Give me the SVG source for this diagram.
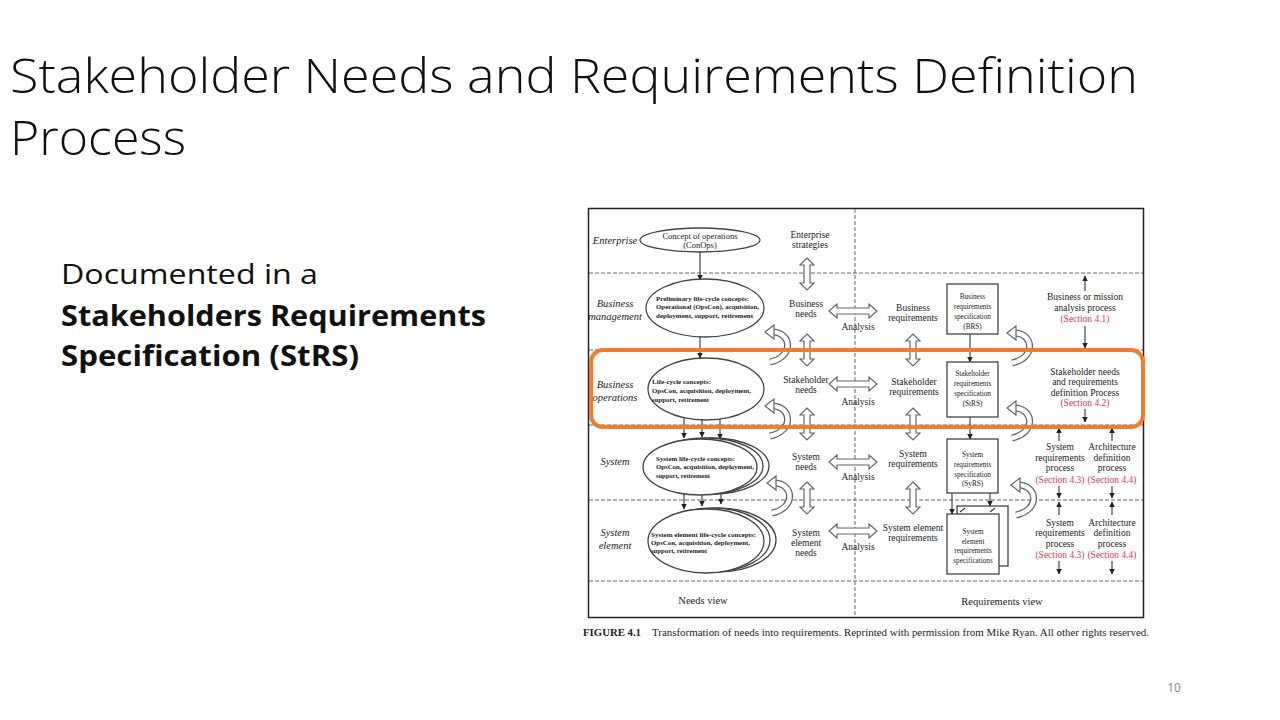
<svg xmlns="http://www.w3.org/2000/svg" width="1280" height="720" viewBox="0 0 1280 720">
<style>
.ttl{font-family:"Open Sans","Liberation Sans",sans-serif;font-weight:300;font-size:47px;fill:#111}
.body{font-family:"Open Sans","Liberation Sans",sans-serif;font-size:28px;fill:#111}
.fig{font-family:"Liberation Serif","Times New Roman",serif;fill:#222}
.t9{font-size:9.5px;text-anchor:middle}
.lab{font-size:10.5px;font-style:italic;text-anchor:middle}
.el{font-size:6.8px;font-weight:bold}
.bx{font-size:7.2px;text-anchor:middle}
.red{fill:#e0384f}
.dash{stroke:#666;stroke-width:1;stroke-dasharray:4 2;fill:none}
.ell{fill:#fff;stroke:#444;stroke-width:1.3}
.box{fill:#fff;stroke:#444;stroke-width:1.3}
.ln{stroke:#333;stroke-width:1.1;fill:none}
</style>
<defs>
<marker id="ah" viewBox="0 0 10 10" refX="9" refY="5" markerWidth="5" markerHeight="5" orient="auto-start-reverse"><path d="M0,0 L10,5 L0,10 z" fill="#222"/></marker>
<polygon id="va" points="0,-16 7,-9 3,-9 3,9 7,9 0,16 -7,9 -3,9 -3,-9 -7,-9" fill="#fff" stroke="#666" stroke-width="1.2"/>
<polygon id="hz" points="-24,0 -16,-7 -16,-3 16,-3 16,-7 24,0 16,7 16,3 -16,3 -16,7" fill="#fff" stroke="#666" stroke-width="1.2"/>
<g id="ca">
<path d="M5,1 C24,2 26,26 2,31" fill="none" stroke="#666" stroke-width="7"/>
<path d="M5,1 C24,2 26,26 2,31" fill="none" stroke="#fff" stroke-width="4.4"/>
<polygon points="-3,1 6,-6 6,8" fill="#fff" stroke="#666" stroke-width="1.2"/>
</g>
</defs>
<rect width="1280" height="720" fill="#fff"/>

<g id="title">
<text class="ttl" x="10" y="93" textLength="1128" lengthAdjust="spacingAndGlyphs">Stakeholder Needs and Requirements Definition</text>
<text class="ttl" x="10" y="155" textLength="176" lengthAdjust="spacingAndGlyphs">Process</text>
</g>
<g id="bodytext">
<text class="body" x="61" y="284" textLength="257" lengthAdjust="spacingAndGlyphs">Documented in a</text>
<text class="body" x="61" y="326" font-weight="bold" textLength="425" lengthAdjust="spacingAndGlyphs">Stakeholders Requirements</text>
<text class="body" x="61" y="366" font-weight="bold" textLength="298" lengthAdjust="spacingAndGlyphs">Specification (StRS)</text>
</g>
<text id="pagenum" x="1174" y="692" font-family="Open Sans, Liberation Sans, sans-serif" font-size="12" fill="#888" text-anchor="middle">10</text>

<g id="figure-frame">
<rect x="588.5" y="208.5" width="555" height="409" fill="#fff" stroke="#222" stroke-width="1.5"/>
<line class="dash" x1="589" y1="273" x2="1143" y2="273"/>
<line class="dash" x1="589" y1="350" x2="1143" y2="350"/>
<line class="dash" x1="589" y1="425" x2="1143" y2="425"/>
<line class="dash" x1="589" y1="500" x2="1143" y2="500"/>
<line class="dash" x1="589" y1="581" x2="1143" y2="581"/>
<line class="dash" x1="855" y1="209" x2="855" y2="617"/>
</g>

<g id="row-labels" class="fig lab">
<text x="615" y="244">Enterprise</text>
<text x="615" y="307">Business</text>
<text x="615" y="320">management</text>
<text x="615" y="388">Business</text>
<text x="615" y="401">operations</text>
<text x="615" y="465">System</text>
<text x="615" y="536">System</text>
<text x="615" y="549">element</text>
</g>

<g id="connectors">
<line class="ln" x1="700" y1="252" x2="700" y2="280" marker-end="url(#ah)"/>
<line class="ln" x1="700" y1="337" x2="700" y2="358" marker-end="url(#ah)"/>
<line class="ln" x1="684" y1="418" x2="684" y2="438" marker-end="url(#ah)"/>
<line class="ln" x1="702" y1="420" x2="702" y2="437" marker-end="url(#ah)"/>
<line class="ln" x1="720" y1="418" x2="720" y2="439" marker-end="url(#ah)"/>
<line class="ln" x1="684" y1="492" x2="684" y2="509" marker-end="url(#ah)"/>
<line class="ln" x1="702" y1="494" x2="702" y2="506" marker-end="url(#ah)"/>
<line class="ln" x1="721" y1="492" x2="721" y2="504" marker-end="url(#ah)"/>
<line class="ln" x1="970" y1="334" x2="970" y2="362" marker-end="url(#ah)"/>
<line class="ln" x1="970" y1="417" x2="970" y2="439" marker-end="url(#ah)"/>
<line class="ln" x1="952" y1="493" x2="952" y2="514" marker-end="url(#ah)"/>
<line class="ln" x1="990" y1="493" x2="990" y2="506" marker-end="url(#ah)"/>
<line class="ln" x1="1085" y1="291" x2="1085" y2="276" marker-end="url(#ah)"/>
<line class="ln" x1="1085" y1="326" x2="1085" y2="348" marker-end="url(#ah)"/>
<line class="ln" x1="1085" y1="409" x2="1085" y2="422" marker-end="url(#ah)"/>
<line class="ln" x1="1059" y1="441" x2="1059" y2="428" marker-end="url(#ah)"/>
<line class="ln" x1="1112" y1="441" x2="1112" y2="428" marker-end="url(#ah)"/>
<line class="ln" x1="1059" y1="486" x2="1059" y2="498" marker-end="url(#ah)"/>
<line class="ln" x1="1112" y1="486" x2="1112" y2="498" marker-end="url(#ah)"/>
<line class="ln" x1="1059" y1="515" x2="1059" y2="502" marker-end="url(#ah)"/>
<line class="ln" x1="1112" y1="515" x2="1112" y2="502" marker-end="url(#ah)"/>
<line class="ln" x1="1059" y1="561" x2="1059" y2="574" marker-end="url(#ah)"/>
<line class="ln" x1="1112" y1="561" x2="1112" y2="574" marker-end="url(#ah)"/>
<use href="#va" x="807" y="274"/>
<use href="#va" x="807" y="350"/>
<use href="#va" x="807" y="424"/>
<use href="#va" x="807" y="498"/>
<use href="#va" x="913" y="350"/>
<use href="#va" x="913" y="424"/>
<use href="#va" x="913" y="498"/>
<use href="#hz" x="853" y="311"/>
<use href="#hz" x="853" y="384"/>
<use href="#hz" x="853" y="462"/>
<use href="#hz" x="853" y="531"/>
<use href="#ca" x="768" y="331"/>
<use href="#ca" x="768" y="405"/>
<use href="#ca" x="770" y="482"/>
<use href="#ca" x="1010" y="332"/>
<use href="#ca" x="1010" y="407"/>
<use href="#ca" x="1014" y="484"/>
</g>

<g id="node-conops">
<ellipse class="ell" cx="700" cy="240" rx="60" ry="12"/>
<text class="fig" font-size="8.5" text-anchor="middle" x="700" y="238.5">Concept of operations</text>
<text class="fig" font-size="8.5" text-anchor="middle" x="700" y="247.5">(ConOps)</text>
</g>
<g id="node-prelim">
<ellipse class="ell" cx="705" cy="308" rx="59" ry="29"/>
<text class="fig el" x="656" y="300.5" textLength="93" lengthAdjust="spacingAndGlyphs">Preliminary life-cycle concepts:</text>
<text class="fig el" x="656" y="309" textLength="103" lengthAdjust="spacingAndGlyphs">Operational (OpsCon), acquisition,</text>
<text class="fig el" x="656" y="317.5" textLength="97" lengthAdjust="spacingAndGlyphs">deployment, support, retirement</text>
</g>
<g id="node-lifecycle">
<ellipse class="ell" cx="706" cy="389" rx="58" ry="31"/>
<text class="fig el" x="652" y="383.5" textLength="59" lengthAdjust="spacingAndGlyphs">Life-cycle concepts:</text>
<text class="fig el" x="652" y="392.5" textLength="99" lengthAdjust="spacingAndGlyphs">OpsCon, acquisition, deployment,</text>
<text class="fig el" x="652" y="401.5" textLength="57" lengthAdjust="spacingAndGlyphs">support, retirement</text>
</g>
<g id="node-system-concepts">
<ellipse class="ell" cx="712" cy="466" rx="57" ry="28"/>
<ellipse class="ell" cx="706" cy="466" rx="57" ry="28"/>
<ellipse class="ell" cx="700" cy="467" rx="57" ry="28"/>
<text class="fig el" x="656" y="460.5" textLength="79" lengthAdjust="spacingAndGlyphs">System life-cycle concepts:</text>
<text class="fig el" x="656" y="468.5" textLength="98" lengthAdjust="spacingAndGlyphs">OpsCon, acquisition, deployment,</text>
<text class="fig el" x="656" y="477.5" textLength="54" lengthAdjust="spacingAndGlyphs">support, retirement</text>
</g>
<g id="node-element-concepts">
<ellipse class="ell" cx="718" cy="540" rx="58" ry="32"/>
<ellipse class="ell" cx="712" cy="540" rx="58" ry="32"/>
<ellipse class="ell" cx="706" cy="541" rx="58" ry="32"/>
<text class="fig el" x="651" y="536.5" textLength="105" lengthAdjust="spacingAndGlyphs">System element life-cycle concepts:</text>
<text class="fig el" x="651" y="544.5" textLength="99" lengthAdjust="spacingAndGlyphs">OpsCon, acquisition, deployment,</text>
<text class="fig el" x="651" y="552.5" textLength="56" lengthAdjust="spacingAndGlyphs">support, retirement</text>
</g>

<g id="needs-labels" class="fig t9">
<text x="810" y="238">Enterprise</text>
<text x="810" y="248">strategies</text>
<text x="806" y="307">Business</text>
<text x="806" y="317">needs</text>
<text x="806" y="383">Stakeholder</text>
<text x="806" y="393">needs</text>
<text x="806" y="460">System</text>
<text x="806" y="470">needs</text>
<text x="806" y="536">System</text>
<text x="806" y="546">element</text>
<text x="806" y="556">needs</text>
</g>
<g id="analysis-labels" class="fig t9">
<text x="858" y="330">Analysis</text>
<text x="858" y="405">Analysis</text>
<text x="858" y="480">Analysis</text>
<text x="858" y="550">Analysis</text>
</g>
<g id="req-labels" class="fig t9">
<text x="913" y="311">Business</text>
<text x="913" y="321">requirements</text>
<text x="914" y="385">Stakeholder</text>
<text x="914" y="395">requirements</text>
<text x="913" y="457">System</text>
<text x="913" y="467">requirements</text>
<text x="913" y="531">System element</text>
<text x="913" y="541">requirements</text>
</g>

<g id="node-brs">
<rect class="box" x="947" y="284" width="51" height="50"/>
<g class="fig bx"><text x="972.5" y="299">Business</text><text x="972.5" y="308.5">requirements</text><text x="972.5" y="318.5">specification</text><text x="972.5" y="329">(BRS)</text></g>
</g>
<g id="node-strs">
<rect class="box" x="947" y="362" width="51" height="55"/>
<g class="fig bx"><text x="972.5" y="376">Stakeholder</text><text x="972.5" y="386">requirements</text><text x="972.5" y="396">specification</text><text x="972.5" y="406">(StRS)</text></g>
</g>
<g id="node-syrs">
<rect class="box" x="947" y="439" width="51" height="54"/>
<g class="fig bx"><text x="972.5" y="457">System</text><text x="972.5" y="467">requirements</text><text x="972.5" y="476.5">specification</text><text x="972.5" y="486">(SyRS)</text></g>
</g>
<g id="node-element-specs">
<rect class="box" x="957" y="506" width="51" height="60"/>
<rect class="box" x="947" y="514" width="52" height="60"/>
<line class="ln" x1="960" y1="512" x2="965" y2="508" stroke="#666"/>
<line class="ln" x1="990" y1="512" x2="995" y2="508" stroke="#666"/>
<g class="fig bx"><text x="973" y="534">System</text><text x="973" y="543.5">element</text><text x="973" y="553">requirements</text><text x="973" y="562.5">specifications</text></g>
</g>

<g id="process-41" class="fig t9">
<text x="1085" y="300">Business or mission</text>
<text x="1085" y="311">analysis process</text>
<text x="1085" y="322" class="red">(Section 4.1)</text>
</g>
<g id="process-42" class="fig t9">
<text x="1085" y="375">Stakeholder needs</text>
<text x="1085" y="385">and requirements</text>
<text x="1085" y="396">definition Process</text>
<text x="1085" y="406" class="red">(Section 4.2)</text>
</g>
<g id="process-43a" class="fig t9">
<text x="1060" y="450">System</text>
<text x="1060" y="461">requirements</text>
<text x="1060" y="471">process</text>
<text x="1060" y="483" class="red">(Section 4.3)</text>
</g>
<g id="process-44a" class="fig t9">
<text x="1112" y="450">Architecture</text>
<text x="1112" y="461">definition</text>
<text x="1112" y="471">process</text>
<text x="1112" y="483" class="red">(Section 4.4)</text>
</g>
<g id="process-43b" class="fig t9">
<text x="1060" y="526">System</text>
<text x="1060" y="536">requirements</text>
<text x="1060" y="547">process</text>
<text x="1060" y="558" class="red">(Section 4.3)</text>
</g>
<g id="process-44b" class="fig t9">
<text x="1112" y="526">Architecture</text>
<text x="1112" y="536">definition</text>
<text x="1112" y="547">process</text>
<text x="1112" y="558" class="red">(Section 4.4)</text>
</g>

<g id="view-labels" class="fig">
<text x="703" y="604" font-size="10.5" text-anchor="middle">Needs view</text>
<text x="1002" y="605" font-size="10.5" text-anchor="middle">Requirements view</text>
</g>
<g id="caption" class="fig">
<text x="583" y="636" font-size="9.5" font-weight="bold" textLength="58" lengthAdjust="spacingAndGlyphs">FIGURE 4.1</text>
<text x="652" y="636" font-size="9.5" textLength="497" lengthAdjust="spacingAndGlyphs">Transformation of needs into requirements. Reprinted with permission from Mike Ryan. All other rights reserved.</text>
</g>

<rect id="highlight" x="591" y="350" width="552" height="77" rx="12" fill="none" stroke="#ED7D31" stroke-width="4"/>
</svg>
